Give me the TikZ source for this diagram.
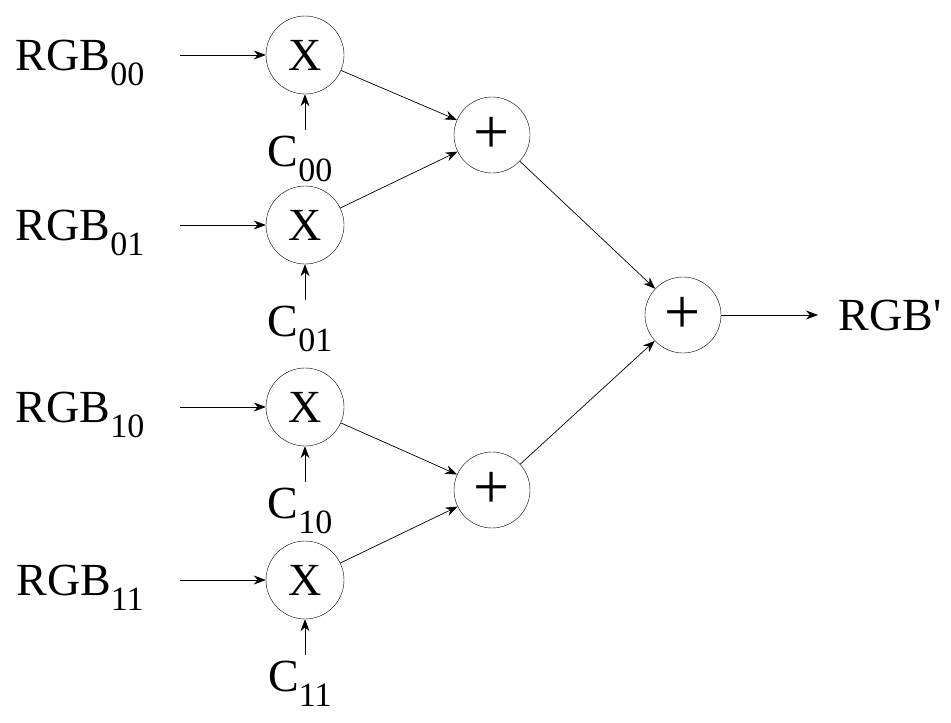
\documentclass[tikz,border=0pt]{standalone}
\usepackage{fontspec}
\setmainfont{Liberation Serif}
\usetikzlibrary{arrows.meta}
\newcommand{\mysub}[1]{\raisebox{-0.32em}{\fontsize{34}{36}\selectfont #1}}
\begin{document}
\begin{tikzpicture}[x=1pt,y=-1pt,
  op/.style={draw,circle,minimum size=78pt,inner sep=0pt,font=\fontsize{46}{50}\selectfont},
  sm/.style={draw,circle,minimum size=76pt,inner sep=0pt,font=\fontsize{64}{66}\selectfont},
  lbl/.style={inner sep=0pt,font=\fontsize{46}{50}\selectfont},
  arr/.style={-{Stealth[length=12pt,width=9pt]},line width=0.7pt}]
\useasboundingbox (0,0) rectangle (951,723);
\foreach \i/\s/\y in {0/00/55,1/01/225,2/10/407,3/11/580}{
  \node[op] (x\i) at (305,\y) {X};
  \node[lbl] (r\i) at (80,\y+8) {RGB\mysub{\s}};
  \node[lbl] (c\i) at (300,\y+104) {C\mysub{\s}};
  \coordinate (ra\i) at (180,\y);
  \coordinate (ca\i) at (305,\y+75);
  \draw[arr] (ra\i) -- (x\i);
  \draw[arr] (ca\i) -- (x\i);
}
\node[sm] (p0) at (492,135) {+};
\node[sm] (p1) at (492,490) {+};
\node[sm] (p2) at (683,315) {+};
\node[lbl] (out) at (890,315) {RGB\textquotesingle};
\draw[arr] (x0) -- (p0);
\draw[arr] (x1) -- (p0);
\draw[arr] (x2) -- (p1);
\draw[arr] (x3) -- (p1);
\draw[arr] (p0) -- (p2);
\draw[arr] (p1) -- (p2);
\coordinate (oa) at (818,315);
\draw[arr] (p2) -- (oa);
\end{tikzpicture}
\end{document}
